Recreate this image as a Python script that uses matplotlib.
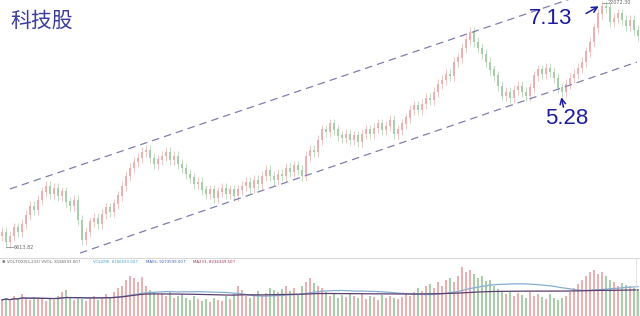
import matplotlib
matplotlib.use('Agg')
import matplotlib.pyplot as plt
import pandas as pd

closes = [7560, 6900, 7310, 7820, 7560, 8070, 8640, 9210, 8960, 9590,
          10100, 10480, 9970, 10350, 9850, 10100, 9470, 9210, 9590, 8320,
          7060, 7560, 8200, 8450, 8070, 8700, 9090, 8830, 9340, 9850,
          10480, 11110, 11620, 12000, 12250, 12630, 12760, 12250, 11870, 12130,
          12380, 12630, 12130, 12380, 11870, 11620, 11240, 10990, 10610, 10730,
          10230, 9970, 10230, 9720, 10100, 10350, 9970, 10230, 9850, 10230,
          10480, 10730, 10350, 10860, 10610, 11110, 11490, 11110, 10860, 11240,
          11110, 11620, 11370, 11750, 11490, 11110, 12380, 12760, 12630, 13390,
          14030, 13900, 14410, 14030, 13650, 13520, 13770, 13390, 13650, 13270,
          13770, 14030, 13770, 14150, 14410, 14030, 14280, 14660, 13770, 14030,
          14410, 14790, 15290, 15550, 15290, 15670, 16050, 15930, 16430, 16940,
          17190, 17570, 17450, 18330, 18590, 19220, 19730, 20230, 19600, 19220,
          18840, 18330, 17830, 17450, 16810, 16180, 16430, 16050, 16560, 16810,
          16430, 16180, 16690, 17450, 17830, 17570, 17950, 17700, 17320, 16690,
          16430, 16940, 17320, 17570, 17950, 18330, 18970, 19600, 20490, 21380,
          21880, 21760, 20870, 21120, 21380, 20990, 20610, 20990, 20360, 19980]
first_open = 7300

# volume in millions
volumes = [5.7, 6.1, 5.4, 6.6, 5.9, 7.1, 6.1, 5.7, 6.4, 5.9,
           6.1, 5.4, 5.9, 5.7, 6.6, 7.5, 8.0, 6.1, 5.7, 6.4,
           5.9, 5.4, 6.1, 6.6, 5.7, 6.4, 7.1, 6.1, 7.5, 8.4,
           8.9, 10.3, 11.2, 10.7, 9.8, 11.0, 8.9, 8.0, 7.5, 7.1,
           7.1, 6.6, 7.5, 6.1, 6.6, 7.1, 6.1, 5.7, 6.6, 5.9,
           5.4, 5.9, 5.2, 6.1, 5.7, 5.4, 6.6, 5.9, 7.1, 8.9,
           8.0, 6.6, 6.1, 7.1, 7.7, 6.6, 7.3, 8.4, 8.0, 7.5,
           8.2, 8.9, 7.7, 8.4, 7.1, 8.9, 9.8, 10.7, 9.6, 8.9,
           8.4, 7.5, 6.6, 7.1, 6.1, 6.8, 6.4, 7.3, 6.6, 6.1,
           7.1, 5.9, 6.6, 6.4, 5.7, 6.8, 6.1, 6.6, 6.1, 5.9,
           6.4, 7.1, 6.6, 7.5, 8.4, 7.7, 8.9, 9.4, 8.4, 9.8,
           8.9, 10.3, 10.7, 9.8, 11.2, 13.3, 12.1, 12.6, 11.7, 10.7,
           11.2, 10.0, 10.3, 8.9, 8.2, 7.7, 7.1, 7.5, 6.6, 7.3,
           6.8, 6.1, 7.5, 6.6, 7.1, 6.4, 5.9, 7.1, 6.1, 5.7,
           6.1, 6.6, 7.5, 8.4, 9.4, 10.3, 11.2, 12.1, 12.6, 11.7,
           12.1, 11.2, 10.3, 9.8, 8.9, 9.6, 9.1, 8.9, 8.4, 8.2]

low_val = 6613.82
high_val = 22072.30

# channel lines (candle index, price)
upper_x = [2, 150]
upper_y = [10290, 23010]
lower_x = [19.5, 158.75]
lower_y = [6230, 18330]

up_col = '#ebb0b0'
dn_col = '#a9cda9'
wick = 330

opens = [first_open] + closes[:-1]
n = len(closes)
idx = list(range(n))
cols = [up_col if c >= o else dn_col for o, c in zip(opens, closes)]

fig = plt.figure(figsize=(6.4, 3.16), dpi=100)
ax = fig.add_axes([0, 1 - 258 / 316, 1, 258 / 316])
vax = fig.add_axes([0, 0, 1, 54 / 316])

for i in idx:
    o, c = opens[i], closes[i]
    ax.vlines(i, min(o, c) - wick, max(o, c) + wick, color=cols[i], lw=0.5)
    ax.bar(i, abs(c - o) + 30, bottom=min(o, c), width=0.35, color=cols[i], lw=0)

ax.plot(upper_x, upper_y, color='#7e7eae', lw=0.9, dashes=(6, 4))
ax.plot(lower_x, lower_y, color='#7e7eae', lw=0.9, dashes=(6, 4))

ax.set_xlim(-0.5, n - 0.5)
ax.set_ylim(5917, 22262)
ax.axis('off')

# extreme labels
lo_i = closes.index(min(closes))
hi_i = closes.index(max(closes))
ax.plot([lo_i, lo_i + 1.8], [low_val, low_val], color='#777777', lw=0.5)
ax.text(lo_i + 1.9, low_val, '%.2f' % low_val, fontsize=3.5, color='#666666', va='center')
ax.plot([hi_i, hi_i + 1.2], [high_val, high_val], color='#777777', lw=0.5)
ax.text(hi_i + 1.3, high_val, '%.2f' % high_val, fontsize=3.5, color='#666666', va='center')

ax.text(10 / 640, 1 - 21 / 258, '科技股', transform=ax.transAxes, fontsize=15,
        color='#3c3c9a', va='center', family=['Noto Sans CJK SC', 'DejaVu Sans'])

blue = '#1c1ca0'
ax.text(551 / 640, 1 - 18 / 258, '7.13', transform=ax.transAxes, fontsize=16,
        color=blue, ha='center', va='center', family='Liberation Sans')
ax.annotate('', xy=(hi_i - 0.2, 21950), xytext=(hi_i - 4.6, 21320),
            arrowprops=dict(arrowstyle='->', color=blue, lw=1.1))
ax.text(567 / 640, 1 - 119 / 258, '5.28', transform=ax.transAxes, fontsize=16,
        color=blue, ha='center', va='center', family='Liberation Sans')
ax.annotate('', xy=(139.7, 16280), xytext=(140.5, 15300),
            arrowprops=dict(arrowstyle='->', color=blue, lw=1.1))

# volume panel
vax.bar(idx, volumes, width=0.5, color=cols, lw=0)
vs = pd.Series(volumes)
vax.plot(idx, vs.rolling(28, min_periods=1).mean(), color='#86aed0', lw=0.9)
vax.plot(idx, vs.rolling(117, min_periods=1).mean(), color='#5b3d6e', lw=0.9)
vax.set_xlim(-0.5, n - 0.5)
vax.set_ylim(2, 14.4)
vax.axis('off')

fig.add_artist(plt.Line2D([0, 1], [1 - 258 / 316] * 2, color='#d8d8d8', lw=0.8))
fig.add_artist(plt.Line2D([636 / 640] * 2, [0, 1 - 258 / 316], color='#e0e0e0', lw=0.6))

ty = 1 - 262 / 316
fs = 2.8
fig.text(2 / 640, ty, '●', fontsize=fs, color='#888888', va='center')
fig.text(7 / 640, ty, 'VOL-TDX(55,233) VVOL: 8186593.00↑', fontsize=fs, color='#666666', va='center')
fig.text(93 / 640, ty, 'VOLUME: 8186593.00↑', fontsize=fs, color='#4aa0c8', va='center')
fig.text(146 / 640, ty, 'MA55: 9273599.00↑', fontsize=fs, color='#3c5cb0', va='center')
fig.text(193 / 640, ty, 'MA233: 8236349.50↑', fontsize=fs, color='#a03060', va='center')

fig.savefig('out.png', dpi=100, facecolor='white')
